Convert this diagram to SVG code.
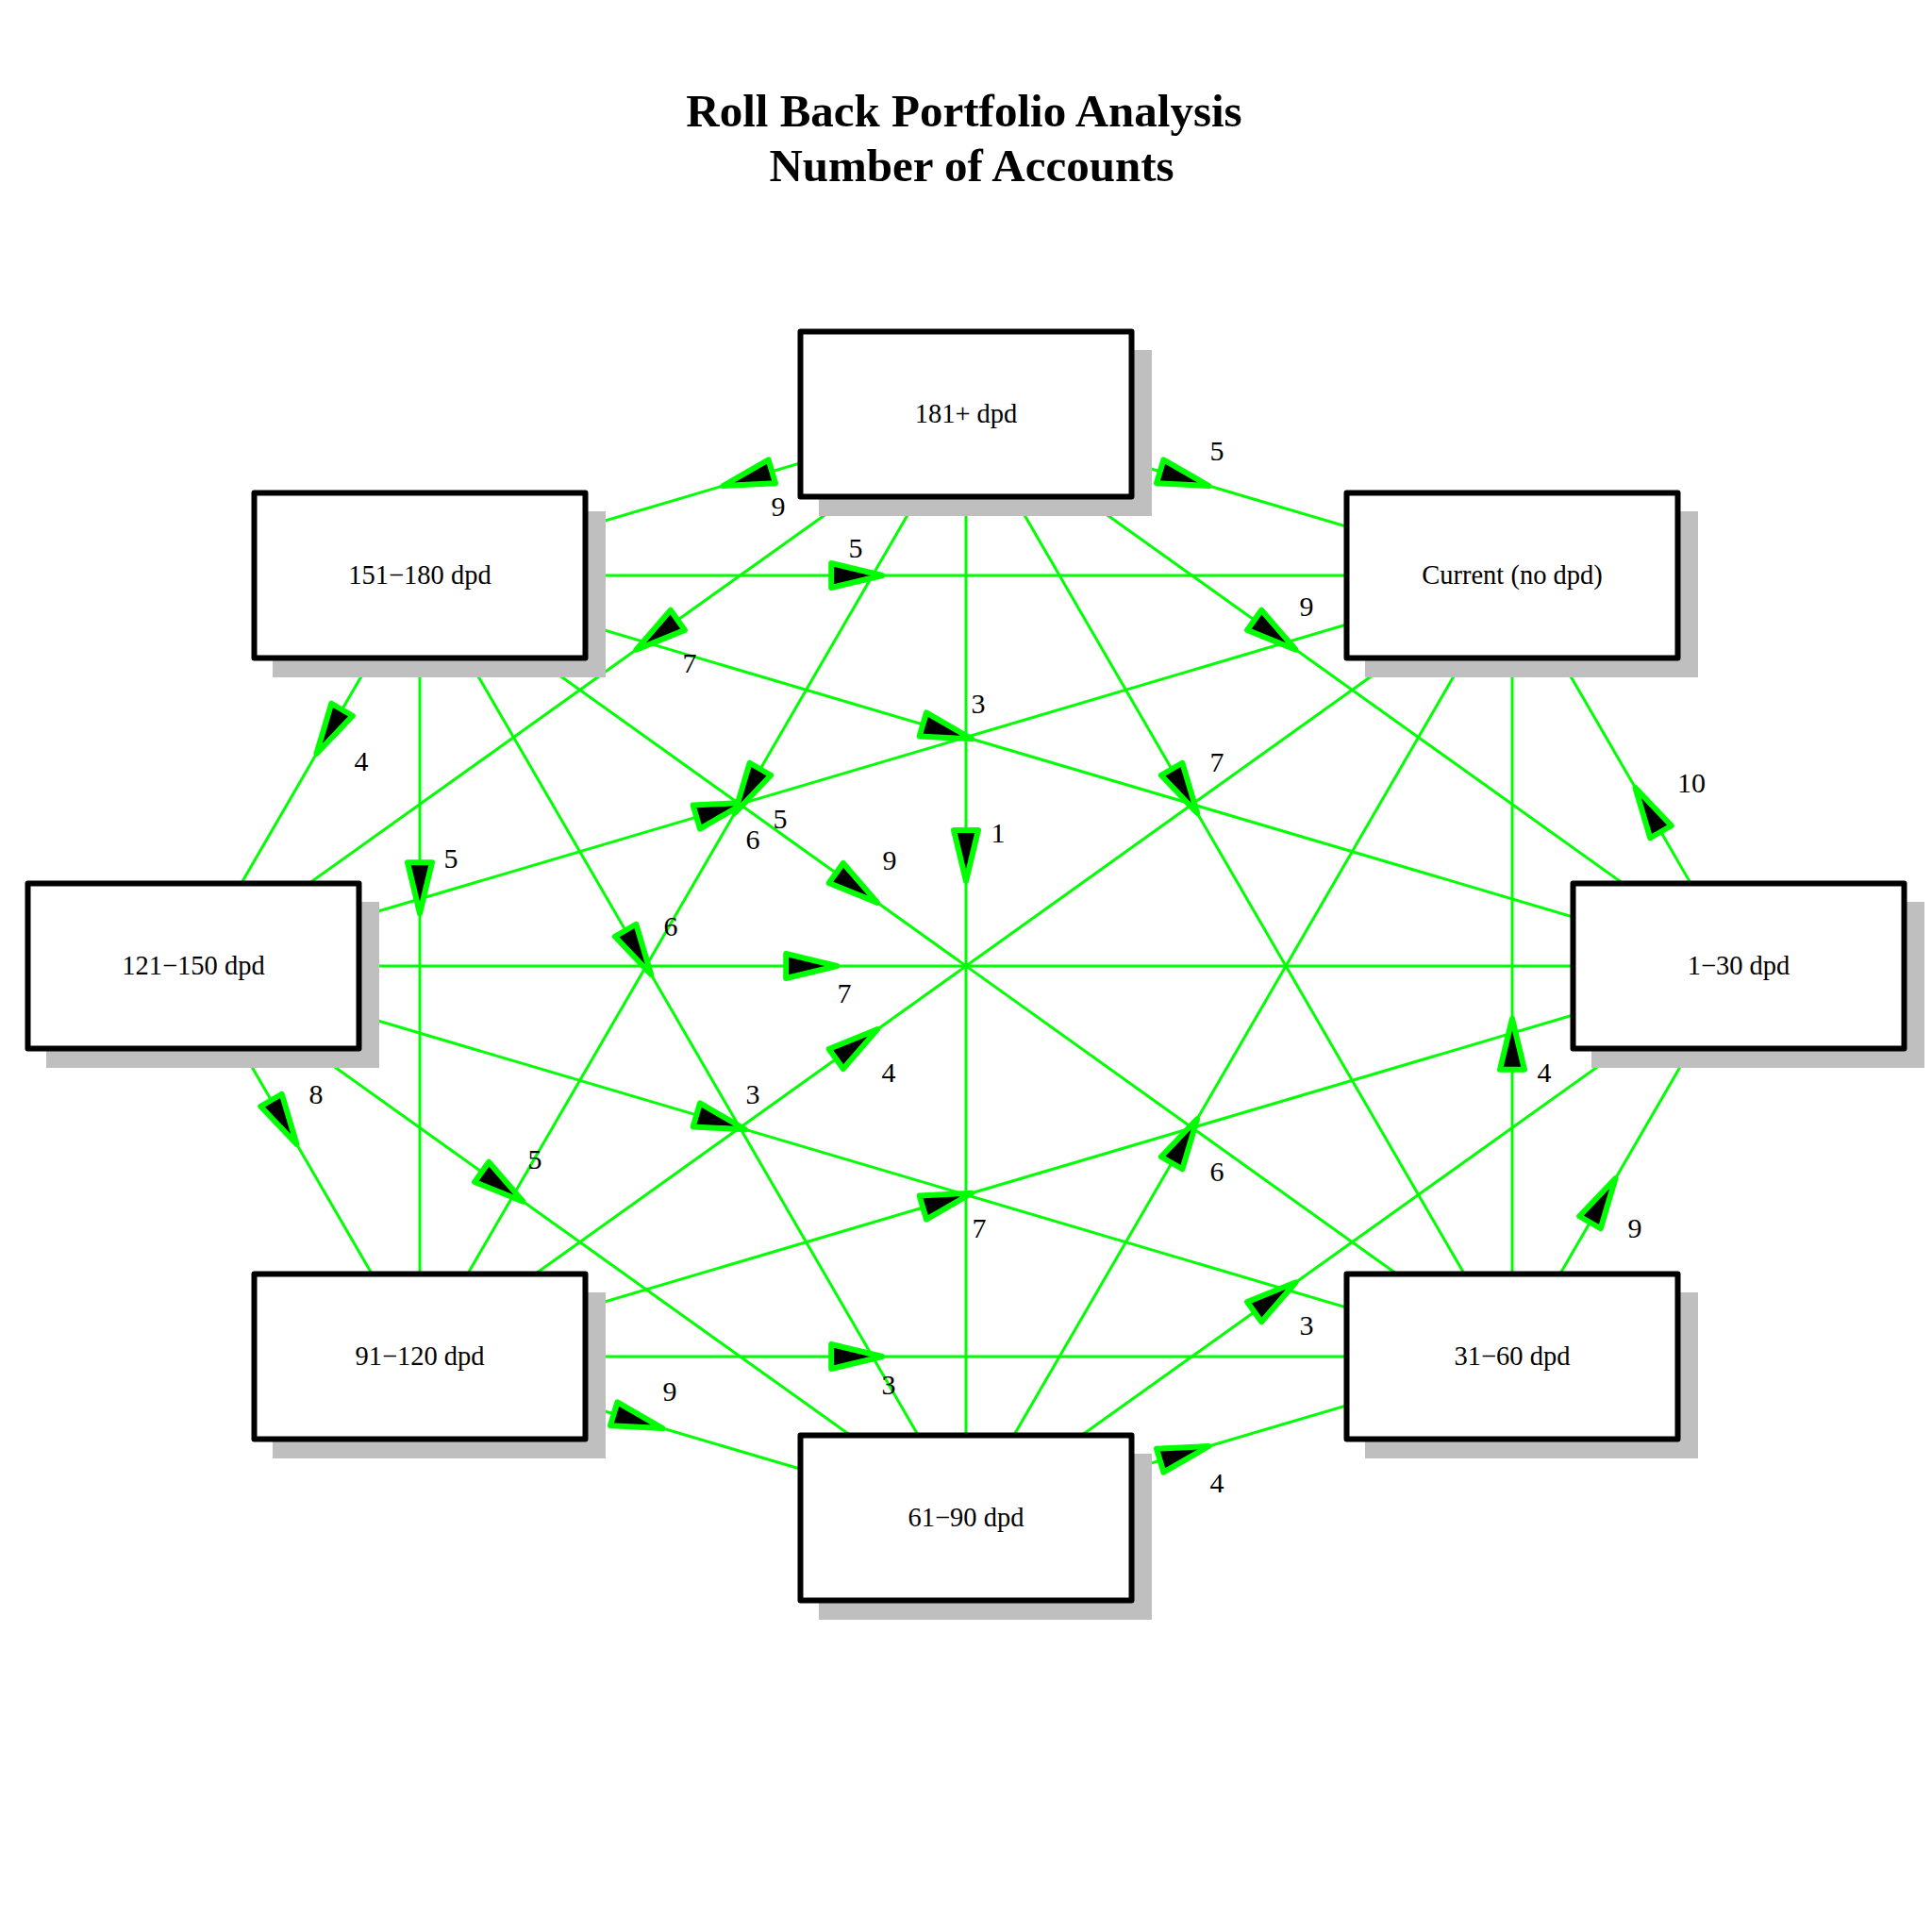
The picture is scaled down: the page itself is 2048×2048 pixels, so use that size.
<svg xmlns="http://www.w3.org/2000/svg" width="2048" height="2048" viewBox="0 0 2048 2048">
<style>
.ln{stroke:#00ff00;stroke-width:3;fill:none}
.ah{fill:#000;stroke:#00ff00;stroke-width:6;stroke-linejoin:round}
.sh{fill:#bfbfbf;stroke:none}
.bx{fill:#fff;stroke:#000;stroke-width:6;stroke-linejoin:round}
.nt{font-family:"Liberation Serif","Times New Roman",serif;font-size:28.5px;text-anchor:middle;fill:#000}
.lb{font-family:"Liberation Serif","Times New Roman",serif;font-size:30px;text-anchor:middle;fill:#000}
.tt{font-family:"Liberation Serif","Times New Roman",serif;font-size:49px;font-weight:bold;text-anchor:middle;fill:#000}
</style>
<defs>
<polygon id="ah" class="ah" points="27,0 -27,-13 -27,13"/>
</defs>
<rect x="0" y="0" width="2048" height="2048" fill="#fff"/>
<g id="title">
<text class="tt" x="1022" y="134">Roll Back Portfolio Analysis</text>
<text class="tt" x="1030" y="192">Number of Accounts</text>
</g>
<g id="connectors">
<line class="ln" x1="1843" y1="1024" x2="1603" y2="610"/>
<line class="ln" x1="1024" y1="439" x2="1843" y2="1024"/>
<line class="ln" x1="445" y1="610" x2="1843" y2="1024"/>
<line class="ln" x1="205" y1="1024" x2="1843" y2="1024"/>
<line class="ln" x1="445" y1="1438" x2="1843" y2="1024"/>
<line class="ln" x1="1024" y1="1609" x2="1843" y2="1024"/>
<line class="ln" x1="1603" y1="1438" x2="1843" y2="1024"/>
<line class="ln" x1="1024" y1="439" x2="1603" y2="610"/>
<line class="ln" x1="445" y1="610" x2="1603" y2="610"/>
<line class="ln" x1="205" y1="1024" x2="1603" y2="610"/>
<line class="ln" x1="445" y1="1438" x2="1603" y2="610"/>
<line class="ln" x1="1024" y1="1609" x2="1603" y2="610"/>
<line class="ln" x1="1603" y1="1438" x2="1603" y2="610"/>
<line class="ln" x1="1024" y1="439" x2="445" y2="610"/>
<line class="ln" x1="1024" y1="439" x2="205" y2="1024"/>
<line class="ln" x1="1024" y1="439" x2="445" y2="1438"/>
<line class="ln" x1="1024" y1="439" x2="1024" y2="1609"/>
<line class="ln" x1="1024" y1="439" x2="1603" y2="1438"/>
<line class="ln" x1="445" y1="610" x2="205" y2="1024"/>
<line class="ln" x1="445" y1="610" x2="445" y2="1438"/>
<line class="ln" x1="445" y1="610" x2="1024" y2="1609"/>
<line class="ln" x1="445" y1="610" x2="1603" y2="1438"/>
<line class="ln" x1="205" y1="1024" x2="445" y2="1438"/>
<line class="ln" x1="205" y1="1024" x2="1024" y2="1609"/>
<line class="ln" x1="205" y1="1024" x2="1603" y2="1438"/>
<line class="ln" x1="445" y1="1438" x2="1024" y2="1609"/>
<line class="ln" x1="445" y1="1438" x2="1603" y2="1438"/>
<line class="ln" x1="1024" y1="1609" x2="1603" y2="1438"/>

<use href="#ah" transform="translate(1747,858.4) rotate(-120.1)"/>
<use href="#ah" transform="translate(1351.6,673) rotate(35.54)"/>
<use href="#ah" transform="translate(1004.2,775.6) rotate(16.5)"/>
<use href="#ah" transform="translate(860.2,1024) rotate(0)"/>
<use href="#ah" transform="translate(1004.2,1272.4) rotate(-16.5)"/>
<use href="#ah" transform="translate(1351.6,1375) rotate(-35.54)"/>
<use href="#ah" transform="translate(1699,1272.4) rotate(-59.9)"/>
<use href="#ah" transform="translate(1255.6,507.4) rotate(16.45)"/>
<use href="#ah" transform="translate(908.2,610) rotate(0)"/>
<use href="#ah" transform="translate(764.2,858.4) rotate(-16.5)"/>
<use href="#ah" transform="translate(908.2,1106.8) rotate(-35.56)"/>
<use href="#ah" transform="translate(1255.6,1209.4) rotate(-59.9)"/>
<use href="#ah" transform="translate(1603,1106.8) rotate(-90)"/>
<use href="#ah" transform="translate(792.4,507.4) rotate(163.55)"/>
<use href="#ah" transform="translate(696.4,673) rotate(144.46)"/>
<use href="#ah" transform="translate(792.4,838.6) rotate(120.1)"/>
<use href="#ah" transform="translate(1024,907) rotate(90)"/>
<use href="#ah" transform="translate(1255.6,838.6) rotate(59.9)"/>
<use href="#ah" transform="translate(349,775.6) rotate(120.1)"/>
<use href="#ah" transform="translate(445,941.2) rotate(90)"/>
<use href="#ah" transform="translate(676.6,1009.6) rotate(59.9)"/>
<use href="#ah" transform="translate(908.2,941.2) rotate(35.56)"/>
<use href="#ah" transform="translate(301,1189.6) rotate(59.9)"/>
<use href="#ah" transform="translate(532.6,1258) rotate(35.54)"/>
<use href="#ah" transform="translate(764.2,1189.6) rotate(16.5)"/>
<use href="#ah" transform="translate(676.6,1506.4) rotate(16.45)"/>
<use href="#ah" transform="translate(908.2,1438) rotate(0)"/>
<use href="#ah" transform="translate(1255.6,1540.6) rotate(-16.45)"/>

<text class="lb" x="1793" y="840">10</text>
<text class="lb" x="1385" y="653">9</text>
<text class="lb" x="1037" y="756">3</text>
<text class="lb" x="895" y="1063">7</text>
<text class="lb" x="1038" y="1312">7</text>
<text class="lb" x="1385" y="1415">3</text>
<text class="lb" x="1733" y="1312">9</text>
<text class="lb" x="1290" y="488">5</text>
<text class="lb" x="907" y="591">5</text>
<text class="lb" x="798" y="900">6</text>
<text class="lb" x="942" y="1147">4</text>
<text class="lb" x="1290" y="1252">6</text>
<text class="lb" x="1637" y="1147">4</text>
<text class="lb" x="825" y="547">9</text>
<text class="lb" x="731" y="713">7</text>
<text class="lb" x="827" y="878">5</text>
<text class="lb" x="1058" y="893">1</text>
<text class="lb" x="1290" y="818">7</text>
<text class="lb" x="383" y="817">4</text>
<text class="lb" x="478" y="920">5</text>
<text class="lb" x="711" y="992">6</text>
<text class="lb" x="943" y="922">9</text>
<text class="lb" x="335" y="1170">8</text>
<text class="lb" x="567" y="1239">5</text>
<text class="lb" x="798" y="1170">3</text>
<text class="lb" x="710" y="1485">9</text>
<text class="lb" x="942" y="1478">3</text>
<text class="lb" x="1290" y="1582">4</text>
</g>
<g id="node-1-30">
<rect class="sh" x="1687" y="956" width="353" height="176"/>
<rect class="bx" x="1667.5" y="936.5" width="351" height="175"/>
<text class="nt" x="1843" y="1033">1−30 dpd</text>
</g>
<g id="node-current">
<rect class="sh" x="1447" y="542" width="353" height="176"/>
<rect class="bx" x="1427.5" y="522.5" width="351" height="175"/>
<text class="nt" x="1603" y="619">Current (no dpd)</text>
</g>
<g id="node-181">
<rect class="sh" x="868" y="371" width="353" height="176"/>
<rect class="bx" x="848.5" y="351.5" width="351" height="175"/>
<text class="nt" x="1024" y="448">181+ dpd</text>
</g>
<g id="node-151-180">
<rect class="sh" x="289" y="542" width="353" height="176"/>
<rect class="bx" x="269.5" y="522.5" width="351" height="175"/>
<text class="nt" x="445" y="619">151−180 dpd</text>
</g>
<g id="node-121-150">
<rect class="sh" x="49" y="956" width="353" height="176"/>
<rect class="bx" x="29.5" y="936.5" width="351" height="175"/>
<text class="nt" x="205" y="1033">121−150 dpd</text>
</g>
<g id="node-91-120">
<rect class="sh" x="289" y="1370" width="353" height="176"/>
<rect class="bx" x="269.5" y="1350.5" width="351" height="175"/>
<text class="nt" x="445" y="1447">91−120 dpd</text>
</g>
<g id="node-61-90">
<rect class="sh" x="868" y="1541" width="353" height="176"/>
<rect class="bx" x="848.5" y="1521.5" width="351" height="175"/>
<text class="nt" x="1024" y="1618">61−90 dpd</text>
</g>
<g id="node-31-60">
<rect class="sh" x="1447" y="1370" width="353" height="176"/>
<rect class="bx" x="1427.5" y="1350.5" width="351" height="175"/>
<text class="nt" x="1603" y="1447">31−60 dpd</text>
</g>
</svg>
